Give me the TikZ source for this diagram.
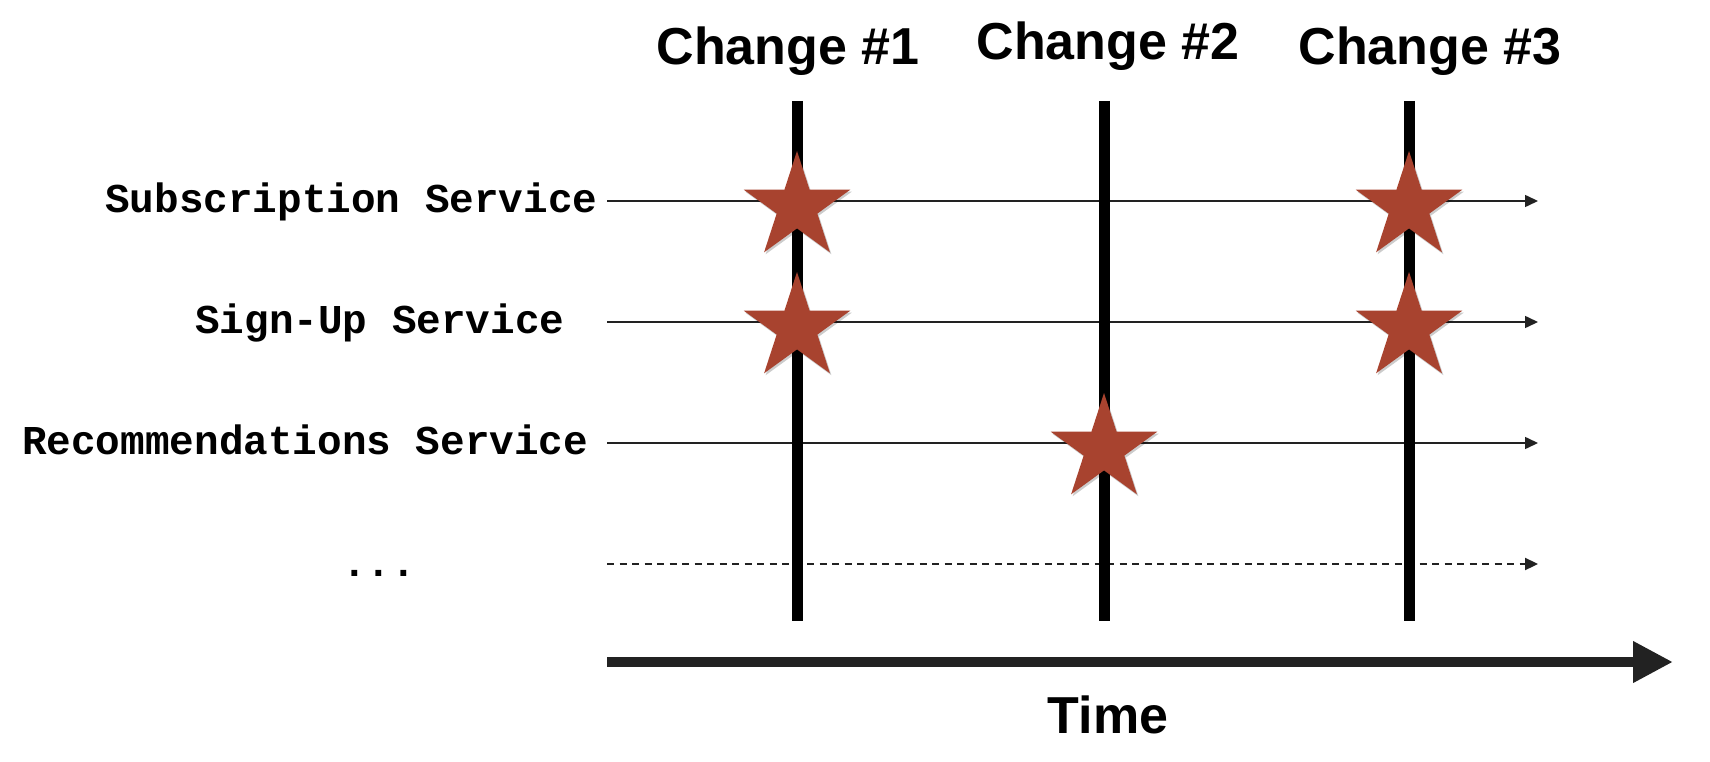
\documentclass[tikz,border=0pt]{standalone}
\usepackage{fontspec}
\setmainfont{Liberation Sans}
\newfontfamily\monofont{Liberation Mono}
\usetikzlibrary{arrows.meta,shapes.geometric,shadows}
\definecolor{starred}{HTML}{A8432F}
\definecolor{linegray}{HTML}{222222}
\tikzset{
  headlabel/.style={anchor=base, inner sep=0pt, font=\fontsize{52}{60}\selectfont\bfseries},
  svclabel/.style={anchor=base west, inner sep=0pt, font=\monofont\fontsize{41}{48}\selectfont\bfseries},
  rowline/.style={draw=linegray, line width=1.5pt, -{Triangle[length=13pt,width=12pt]}},
  rowdash/.style={rowline, line width=2.2pt, dash pattern=on 7pt off 5.5pt},
  changeline/.style={draw=black, line width=11pt},
  timearrow/.style={draw=linegray, line width=10pt, -{Triangle[length=40pt,width=39pt]}},
  starnode/.style={star, star points=5, star point ratio=2.618, minimum size=112pt,
    inner sep=0pt, fill=starred, draw=none,
    drop shadow={shadow xshift=1.5pt, shadow yshift=-2pt, opacity=0.2, fill=black}}
}
\begin{document}
\begin{tikzpicture}[x=1pt,y=-1pt]
\useasboundingbox[fill=white] (0,0) rectangle (1710,762);

% headings
\node[headlabel] (h1) at (788,65) {Change \#1};
\node[headlabel] (h2) at (1108,60) {Change \#2};
\node[headlabel] (h3) at (1430,65) {Change \#3};

% service labels
\node[svclabel] (l1) at (105,212) {Subscription Service};
\node[svclabel] (l2) at (195,333) {Sign-Up Service};
\node[svclabel] (l3) at (22,454) {Recommendations Service};
\node[svclabel] (l4) at (342,576) {...};

% row lines
\coordinate (r1s) at (607,201); \coordinate (r1e) at (1538,201);
\coordinate (r2s) at (607,322); \coordinate (r2e) at (1538,322);
\coordinate (r3s) at (607,443); \coordinate (r3e) at (1538,443);
\coordinate (r4s) at (607,564); \coordinate (r4e) at (1538,564);
\draw[rowline] (r1s) -- (r1e);
\draw[rowline] (r2s) -- (r2e);
\draw[rowline] (r3s) -- (r3e);
\draw[rowdash] (r4s) -- (r4e);

% change lines
\coordinate (c1t) at (797,101); \coordinate (c1b) at (797,621);
\coordinate (c2t) at (1104,101); \coordinate (c2b) at (1104,621);
\coordinate (c3t) at (1409,101); \coordinate (c3b) at (1409,621);
\draw[changeline] (c1t) -- (c1b);
\draw[changeline] (c2t) -- (c2b);
\draw[changeline] (c3t) -- (c3b);

% stars
\node[starnode] (s11) at (797,207) {};
\node[starnode] (s12) at (797,328) {};
\node[starnode] (s23) at (1104,449) {};
\node[starnode] (s31) at (1409,207) {};
\node[starnode] (s32) at (1409,328) {};

% time axis
\coordinate (ts) at (607,662); \coordinate (te) at (1673,662);
\draw[timearrow] (ts) -- (te);
\node[headlabel] (time) at (1108,733) {Time};
\end{tikzpicture}
\end{document}
